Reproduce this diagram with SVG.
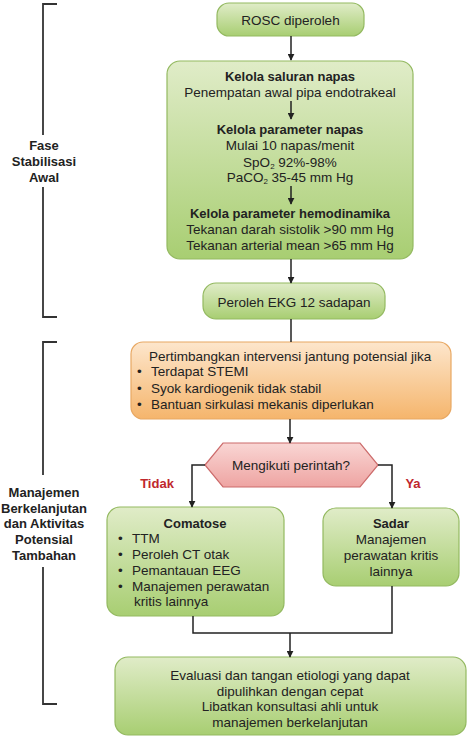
<svg xmlns="http://www.w3.org/2000/svg" width="474" height="740" viewBox="0 0 474 740">
<defs>
<linearGradient id="gGreen" x1="0" y1="0" x2="0" y2="1">
<stop offset="0" stop-color="#e0ecc8"/>
<stop offset="1" stop-color="#a8ce72"/>
</linearGradient>
<linearGradient id="gOrange" x1="0" y1="0" x2="0" y2="1">
<stop offset="0" stop-color="#fde6cc"/>
<stop offset="1" stop-color="#f5b56c"/>
</linearGradient>
<linearGradient id="gPink" x1="0" y1="0" x2="0" y2="1">
<stop offset="0" stop-color="#f9d6d4"/>
<stop offset="1" stop-color="#eea4a2"/>
</linearGradient>
<marker id="arr" viewBox="0 0 10 10" refX="9" refY="5" markerWidth="7" markerHeight="7" orient="auto" markerUnits="userSpaceOnUse">
<path d="M0,0 L10,5 L0,10 z" fill="#222"/>
</marker>
</defs>
<style>
text{font-family:"Liberation Sans",Arial,sans-serif;font-size:13.5px;fill:#222}
.b{font-weight:bold;font-size:13px}
.c{text-anchor:middle}
.red{fill:#c0272d;font-weight:bold;font-size:13px}
.green{fill:url(#gGreen);stroke:#93b960;stroke-width:1.2}
.orange{fill:url(#gOrange);stroke:#e8a863;stroke-width:1.2}
.pink{fill:url(#gPink);stroke:#cc6b6b;stroke-width:1.2}
.ln{fill:none;stroke:#222;stroke-width:1.5}
.br{fill:none;stroke:#333;stroke-width:1.8}
</style>

<g id="bracket1">
<path class="br" d="M57,4 H43 V135 M43,187 V317 H57"/>
<text class="b c" x="44" y="150">Fase</text>
<text class="b c" x="44" y="166">Stabilisasi</text>
<text class="b c" x="44" y="182">Awal</text>
</g>

<g id="bracket2">
<path class="br" d="M57,342 H43 V475 M43,567 V704 H57"/>
<text class="b c" x="44" y="497">Manajemen</text>
<text class="b c" x="44" y="513">Berkelanjutan</text>
<text class="b c" x="44" y="528">dan Aktivitas</text>
<text class="b c" x="44" y="544">Potensial</text>
<text class="b c" x="44" y="560">Tambahan</text>
</g>

<g id="rosc">
<rect class="green" x="217" y="3" width="147" height="33" rx="12"/>
<text class="c" x="290.5" y="24.5">ROSC diperoleh</text>
</g>

<g id="stabilisasi">
<rect class="green" x="167" y="61" width="246" height="198" rx="13"/>
<text class="b c" x="290" y="81">Kelola saluran napas</text>
<text class="c" x="290" y="97">Penempatan awal pipa endotrakeal</text>
<text class="b c" x="290" y="134">Kelola parameter napas</text>
<text class="c" x="290" y="150">Mulai 10 napas/menit</text>
<text class="c" x="290" y="167">SpO<tspan font-size="8" dy="2">2</tspan><tspan dy="-2"> 92%-98%</tspan></text>
<text class="c" x="290" y="182">PaCO<tspan font-size="8" dy="2">2</tspan><tspan dy="-2"> 35-45 mm Hg</tspan></text>
<text class="b c" x="290" y="218">Kelola parameter hemodinamika</text>
<text class="c" x="290" y="234">Tekanan darah sistolik &gt;90 mm Hg</text>
<text class="c" x="290" y="250">Tekanan arterial mean &gt;65 mm Hg</text>
</g>

<g id="ekg">
<rect class="green" x="203" y="283" width="182" height="36" rx="13"/>
<text class="c" x="294" y="306.5">Peroleh EKG 12 sadapan</text>
</g>

<g id="intervensi">
<rect class="orange" x="131" y="342" width="320" height="77" rx="12"/>
<text x="149" y="361">Pertimbangkan intervensi jantung potensial jika</text>
<text x="137" y="376">•</text><text x="151" y="376">Terdapat STEMI</text>
<text x="137" y="393">•</text><text x="151" y="393">Syok kardiogenik tidak stabil</text>
<text x="137" y="409">•</text><text x="151" y="409">Bantuan sirkulasi mekanis diperlukan</text>
</g>

<g id="keputusan">
<polygon class="pink" points="205,465 223,443 360,443 378,465 360,487 223,487"/>
<text class="c" x="291" y="469.5">Mengikuti perintah?</text>
</g>

<g id="comatose">
<rect class="green" x="107" y="507" width="177" height="109" rx="13"/>
<text class="b c" x="195" y="527.5">Comatose</text>
<text x="118" y="542.5">•</text><text x="132" y="542.5">TTM</text>
<text x="118" y="558.5">•</text><text x="132" y="558.5">Peroleh CT otak</text>
<text x="118" y="574.5">•</text><text x="132" y="574.5">Pemantauan EEG</text>
<text x="118" y="590.5">•</text><text x="132" y="590.5">Manajemen perawatan</text>
<text x="134" y="605.5">kritis lainnya</text>
</g>

<g id="sadar">
<rect class="green" x="323" y="508" width="136" height="78" rx="13"/>
<text class="b c" x="391" y="527.5">Sadar</text>
<text class="c" x="391" y="543.5">Manajemen</text>
<text class="c" x="391" y="559.5">perawatan kritis</text>
<text class="c" x="391" y="575.5">lainnya</text>
</g>

<g id="evaluasi">
<rect class="green" x="115" y="657" width="351" height="78" rx="13"/>
<text class="c" x="290" y="679.5">Evaluasi dan tangan etiologi yang dapat</text>
<text class="c" x="290" y="695.5">dipulihkan dengan cepat</text>
<text class="c" x="290" y="710.5">Libatkan konsultasi ahli untuk</text>
<text class="c" x="290" y="726.5">manajemen berkelanjutan</text>
</g>

<g id="connectors">
<line class="ln" x1="291" y1="36" x2="291" y2="60" marker-end="url(#arr)"/>
<line class="ln" x1="291" y1="101" x2="291" y2="119" marker-end="url(#arr)"/>
<line class="ln" x1="291" y1="186" x2="291" y2="204" marker-end="url(#arr)"/>
<line class="ln" x1="291" y1="259" x2="291" y2="283" marker-end="url(#arr)"/>
<line class="ln" x1="291" y1="319" x2="291" y2="342"/>
<line class="ln" x1="290" y1="419" x2="290" y2="443" marker-end="url(#arr)"/>
<polyline class="ln" points="205,465 192,465 192,507" marker-end="url(#arr)"/>
<polyline class="ln" points="378,465 392,465 392,508" marker-end="url(#arr)"/>
<polyline class="ln" points="193,616 193,633 392,633 392,586"/>
<line class="ln" x1="290" y1="633" x2="290" y2="657" marker-end="url(#arr)"/>
<text class="red c" x="157" y="488">Tidak</text>
<text class="red c" x="413" y="488">Ya</text>
</g>
</svg>
